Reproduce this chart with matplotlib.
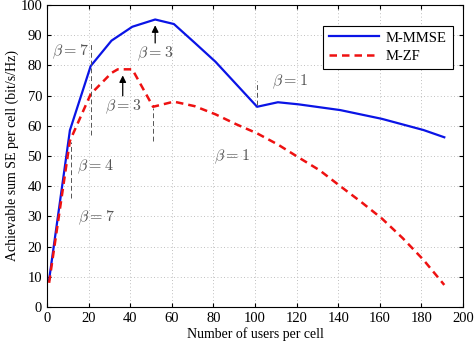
#!/usr/bin/env python3
"""Sum SE per cell vs number of users, M-MMSE vs M-ZF."""

import matplotlib
matplotlib.use("Agg")
import matplotlib.pyplot as plt

# ---- data ----
users_mmse = [1, 11, 21, 31, 41, 52, 61, 71, 81, 101, 111, 121, 141, 161, 181, 191]
se_mmse = [9.0, 58.5, 79.8, 88.2, 92.8, 95.2, 93.7, 87.5, 81.2, 66.3, 67.8, 67.1,
           65.2, 62.3, 58.6, 56.2]

users_zf = [1, 11, 21, 31, 34, 41, 51, 61, 71, 81, 91, 101, 111, 121, 131, 141,
            151, 161, 171, 181, 191]
se_zf = [8.0, 55.0, 70.5, 77.5, 78.7, 78.7, 66.3, 68.0, 66.5, 63.8, 60.5, 57.5,
         53.8, 49.5, 45.3, 40.0, 34.8, 29.3, 22.8, 15.6, 7.3]

# vertical dashed markers: (x, y_bottom, y_top)
marker_lines = [(11.5, 36, 54.5), (21, 57, 87), (51, 55, 66), (101, 67, 75)]

# beta labels: (x, y, text, ha)
beta_labels = [
    (20, 84.5, r"$\beta=7$", "right"),
    (15, 29.7, r"$\beta=7$", "left"),
    (14.5, 46.3, r"$\beta=4$", "left"),
    (108, 74.6, r"$\beta=1$", "left"),
    (89, 49.7, r"$\beta=1$", "center"),
]
# arrows: (x, y_tip, y_tail, text)
arrows = [(52, 94.2, 86.5, r"$\beta=3$"), (36.4, 77.6, 69.0, r"$\beta=3$")]

plt.rcParams["font.family"] = ["Liberation Serif", "DejaVu Serif"]
plt.rcParams["mathtext.fontset"] = "cm"

fig = plt.figure(figsize=(4.74, 3.43), dpi=100)
ax = fig.add_axes([0.0992, 0.105, 0.8776, 0.8804])

ax.plot(users_mmse, se_mmse, color="#0a14e6", lw=1.6, label="M-MMSE")
ax.plot(users_zf, se_zf, color="#ee1111", lw=1.8, ls=(0, (3, 2)), label="M-ZF")

grey = "#555555"
for x, y0, y1 in marker_lines:
    ax.plot([x, x], [y0, y1], color=grey, lw=0.7, ls=(0, (5, 3)))

for x, y, txt, ha in beta_labels:
    ax.text(x, y, txt, color=grey, fontsize=11.5, ha=ha, va="center")

for x, tip, tail, txt in arrows:
    ax.annotate("", xy=(x, tip), xytext=(x, tail),
                arrowprops=dict(arrowstyle="-|>", color="black", lw=0.9,
                                mutation_scale=10))
    ax.text(x, tail - 2.7, txt, color=grey, fontsize=11.5, ha="center", va="center")

ax.set_xlim(0, 200)
ax.set_ylim(0, 100)
ax.set_xticks(range(0, 201, 20))
ax.set_yticks(range(0, 101, 10))
ax.tick_params(direction="in", top=True, right=True, labelsize=10.5, length=3)
ax.grid(True, ls=(0, (1, 3)), color="#aaaaaa", lw=0.6)
ax.set_xlabel("Number of users per cell", fontsize=10, labelpad=2)
ax.set_ylabel("Achievable sum SE per cell (bit/s/Hz)", fontsize=10, labelpad=1)

leg = ax.legend(loc="upper right", bbox_to_anchor=(0.975, 0.932), fontsize=10.5,
                fancybox=False, edgecolor="black", framealpha=1,
                handlelength=3.4, borderpad=0.4, labelspacing=0.35,
                handletextpad=0.5, borderaxespad=0)
leg.get_frame().set_linewidth(0.8)

fig.savefig("out.png", dpi=100)
